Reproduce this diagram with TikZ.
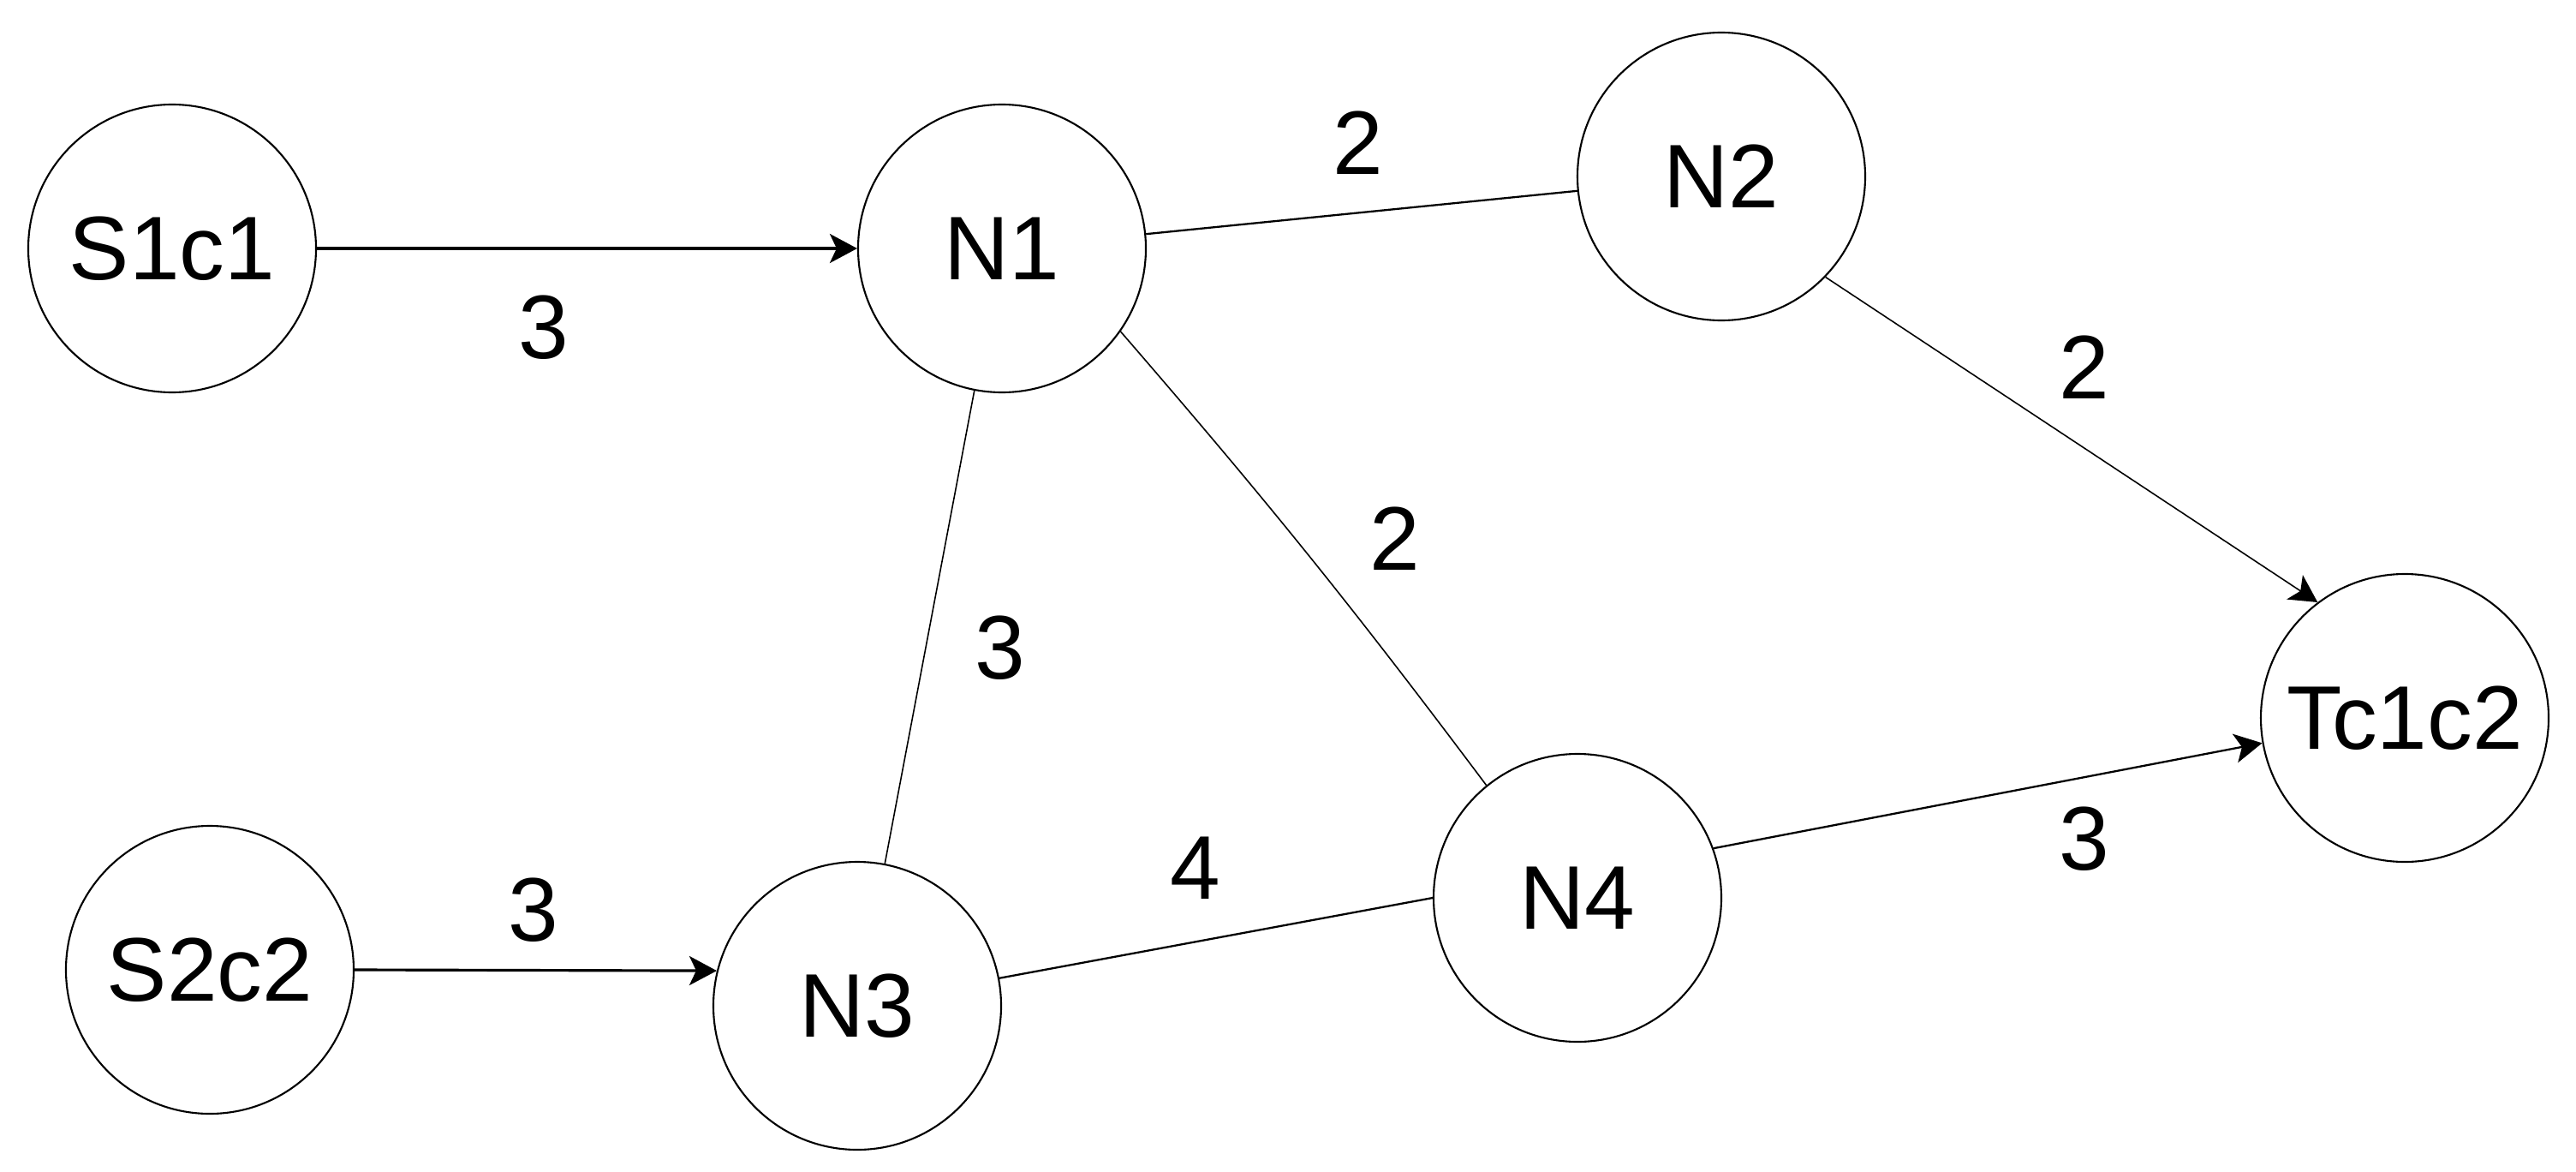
\documentclass[tikz,border=0pt]{standalone}
\usepackage{fontspec}
\setmainfont{Liberation Sans}
\usetikzlibrary{arrows.meta}
\begin{document}
\begin{tikzpicture}[
  vertex/.style={circle,draw=black,line width=0.6pt,minimum size=3.36cm,inner sep=0pt,font=\fontsize{30}{36}\selectfont},
  wlabel/.style={font=\fontsize{30}{36}\selectfont,inner sep=0pt},
  thickedge/.style={line width=0.9pt},
  midedge/.style={line width=0.65pt},
  thinedge/.style={line width=0.45pt},
  tip/.style={-{Stealth[length=0.32cm,width=0.34cm,inset=0.08cm]}}
]
\useasboundingbox (0,0) rectangle (30.08,13.67);
\node[vertex] (S1c1) at (2.01,10.77) {S1c1};
\node[vertex] (N1) at (11.70,10.77) {N1};
\node[vertex] (N2) at (20.10,11.61) {N2};
\node[vertex] (S2c2) at (2.45,2.35) {S2c2};
\node[vertex] (N3) at (10.01,1.93) {N3};
\node[vertex] (N4) at (18.42,3.19) {N4};
\node[vertex] (Tc1c2) at (28.08,5.29) {Tc1c2};

\draw[thickedge,tip] (S1c1) -- (N1);
\draw[midedge] (N1) -- (N2);
\draw[thinedge,tip] (N2.-44) -- (Tc1c2.127);
\draw[thinedge] (N4.129) to[bend right=2] (N1.-35);
\draw[thinedge] (N1.-101) -- (N3.79);
\draw[midedge] (N3.11) -- (N4.180);
\draw[midedge,tip] (N4.20) -- (Tc1c2.190);
\draw[thickedge,tip] (S2c2.east) -- (N3.166);

\node[wlabel] (l1) at (6.35,9.85) {3};
\node[wlabel] (l2) at (15.86,12.00) {2};
\node[wlabel] (l3) at (24.34,9.38) {2};
\node[wlabel] (l4) at (16.29,7.38) {2};
\node[wlabel] (l5) at (11.68,6.11) {3};
\node[wlabel] (l6) at (6.23,3.05) {3};
\node[wlabel] (l7) at (13.96,3.54) {4};
\node[wlabel] (l8) at (24.34,3.88) {3};
\end{tikzpicture}
\end{document}
